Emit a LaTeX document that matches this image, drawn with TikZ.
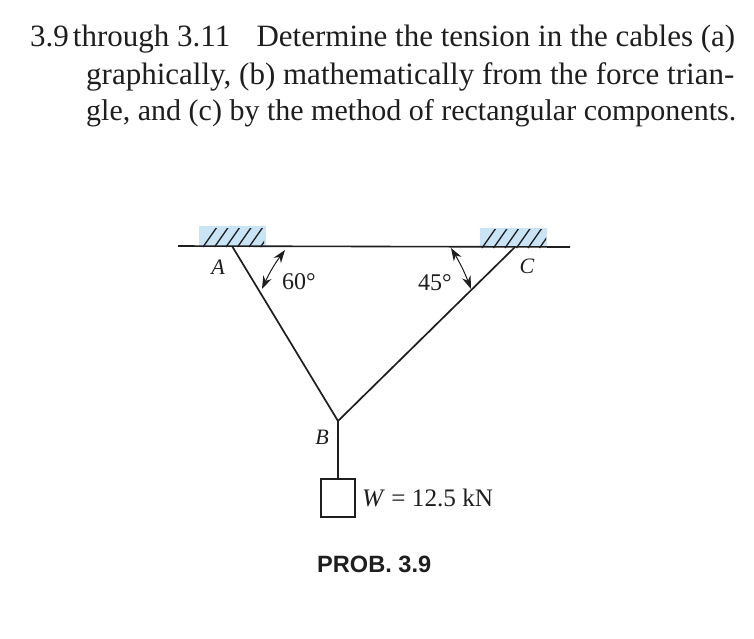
\documentclass[tikz,border=0pt]{standalone}
\usepackage{fontspec}
\setmainfont{Liberation Serif}
\newfontfamily\labelsans{Liberation Sans}
\usetikzlibrary{arrows.meta}
\definecolor{hatchblue}{RGB}{200,228,245}
\definecolor{inkdark}{RGB}{30,30,30}
\tikzset{
  x=1pt,y=-1pt,
  cable/.style={draw=inkdark,line width=1.7pt},
  ceiling/.style={draw=inkdark,line width=1.6pt},
  hatchbox/.style={fill=hatchblue,draw=none},
  hatchline/.style={draw=inkdark,line width=1.3pt},
  anglearrow/.style={draw=inkdark,line width=1pt,{Stealth[length=13pt,width=9pt]}-{Stealth[length=13pt,width=9pt]}},
  titleline/.style={anchor=base west,inner sep=0pt,text=inkdark,font=\fontsize{29}{34}\selectfont},
  figlabel/.style={inner sep=0pt,text=inkdark,font=\fontsize{24}{28}\selectfont},
  pointlabel/.style={inner sep=0pt,text=inkdark,font=\fontsize{22}{26}\selectfont\itshape},
  weightbox/.style={draw=inkdark,line width=1.7pt,minimum width=34pt,minimum height=38pt,inner sep=0pt,fill=white},
}
\begin{document}
\begin{tikzpicture}
\useasboundingbox (0,0) rectangle (754,638);
% title
\node[titleline] (t1) at (30,46) {\resizebox{705pt}{!}{3.9\hspace{0.13em}through 3.11\hspace{0.85em}Determine the tension in the cables (a)}};
\node[titleline] (t2) at (86,84) {\resizebox{648pt}{!}{graphically, (b) mathematically from the force trian-}};
\node[titleline] (t3) at (86,120) {\resizebox{650pt}{!}{gle, and (c) by the method of rectangular components.}};
% ceiling supports
\fill[hatchbox] (199,226) rectangle (266,246);
\fill[hatchbox] (480,228) rectangle (547,247);
\begin{scope}
\clip (199,228) rectangle (264,247);
\foreach \xa in {203,214.5,226,237.5,249,260.5}{
  \draw[hatchline] (\xa,247) -- (\xa+14,227);
}
\end{scope}
\begin{scope}
\clip (480,229) rectangle (546,248);
\foreach \xa in {482,493.5,505,516.5,528,539.5}{
  \draw[hatchline] (\xa,248) -- (\xa+14,228);
}
\end{scope}
% ceiling
\coordinate (ceilL) at (178,246);
\coordinate (ceilR) at (570,247);
\draw[ceiling] (ceilL) -- (ceilR);
% points
\coordinate (A) at (232,246);
\coordinate (C) at (515,247);
\coordinate (B) at (338,421);
\node[weightbox] (box) at (338,498) {};
\draw[cable] (A) -- (B) -- (C);
\draw[cable] (B) -- (box.north);
% angle arrows
\coordinate (a1) at (285,250);
\coordinate (a2) at (262,289);
\coordinate (c1) at (451,248);
\coordinate (c2) at (471,289);
\draw[anglearrow] (a1) to[bend right=6] (a2);
\draw[anglearrow] (c1) to[bend left=5] (c2);
% labels
\node[pointlabel] (lA) at (218,267) {A};
\node[pointlabel] (lC) at (527,266) {C};
\node[pointlabel] (lB) at (322,437) {B};
\node[figlabel] (l60) at (299,282) {60°};
\node[figlabel] (l45) at (435,283) {45°};
\node[figlabel,anchor=base west] (lW) at (362,506) {\resizebox{131pt}{!}{\textit{W} = 12.5 kN}};
\node[anchor=base west,inner sep=0pt,text=inkdark] (lP) at (317,572) {\resizebox{114pt}{!}{\labelsans\bfseries PROB. 3.9}};
\end{tikzpicture}
\end{document}
